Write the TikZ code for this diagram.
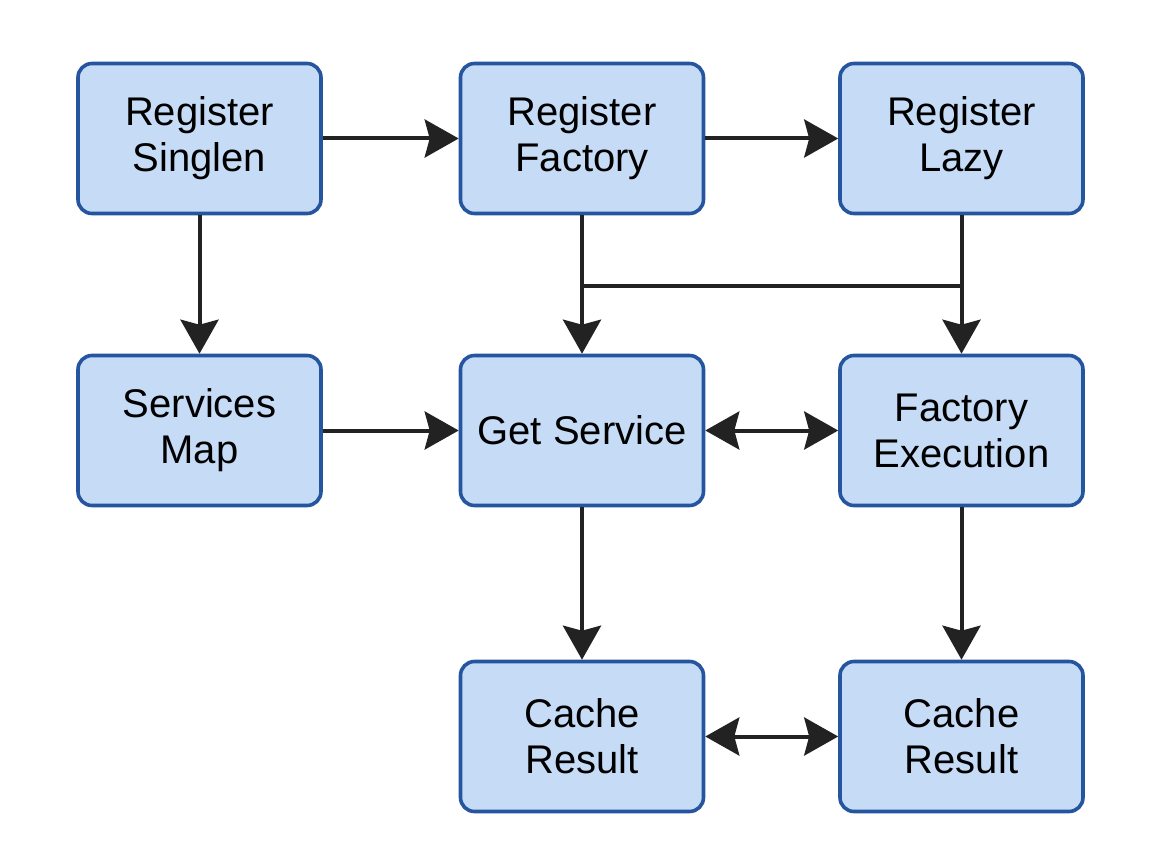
\documentclass[tikz,border=0pt]{standalone}
\usepackage{fontspec}
\setmainfont{Liberation Sans}
\usetikzlibrary{arrows.meta}
\definecolor{boxfill}{HTML}{C6DBF6}
\definecolor{boxline}{HTML}{26559F}
\definecolor{ink}{HTML}{222222}
\begin{document}
\begin{tikzpicture}[x=1pt,y=-1pt,
  >={Stealth[length=34pt,width=38pt,inset=5pt]},
  box/.style={draw=boxline, line width=3.6pt, fill=boxfill, rounded corners=14pt,
    minimum width=243pt, minimum height=150pt, inner sep=0pt, align=center,
    font=\fontsize{40}{46}\selectfont, text=black},
  link/.style={draw=ink, line width=4pt, ->},
  both/.style={draw=ink, line width=4pt, <->},
  plain/.style={draw=ink, line width=4pt}]
\useasboundingbox (0,0) rectangle (1152,864);
\fill[white] (0,0) rectangle (1152,864);
% top row
\node[box] (rs) at (199.5,138.5) {Register\\Singlen};
\node[box] (rf) at (582,138.5) {Register\\Factory};
\node[box] (rl) at (961.5,138.5) {Register\\Lazy};
% middle row
\node[box] (sm) at (199.5,430.5) {Services\\Map};
\node[box] (gs) at (582,430.5) {Get Service};
\node[box] (fe) at (961.5,430.5) {Factory\\Execution};
% bottom row
\node[box] (c1) at (582,736.5) {Cache\\Result};
\node[box] (c2) at (961.5,736.5) {Cache\\Result};
% connectors
\draw[link] (rs) -- (rf);
\draw[link] (rf) -- (rl);
\draw[link] (rs) -- (sm);
\draw[link] (rf) -- (gs);
\draw[link] (rl) -- (fe);
\coordinate (jl) at (582,286);
\coordinate (jr) at (961.5,286);
\draw[plain] (jl) -- (jr);
\draw[link] (sm) -- (gs);
\draw[both] (gs) -- (fe);
\draw[link] (gs) -- (c1);
\draw[link] (fe) -- (c2);
\draw[both] (c1) -- (c2);
\end{tikzpicture}
\end{document}
